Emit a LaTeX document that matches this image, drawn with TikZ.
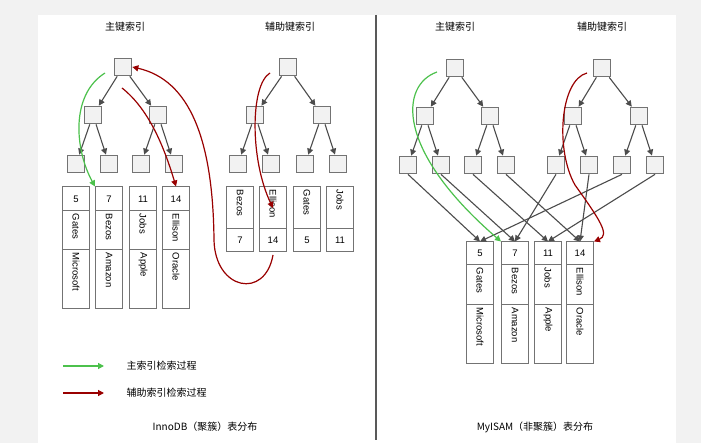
\documentclass[tikz,border=0pt]{standalone}
\usepackage{fontspec}
\setmainfont{Liberation Sans}
\newfontfamily\cjk{Noto Sans CJK SC}
\usetikzlibrary{arrows.meta}

\begin{document}
\begin{tikzpicture}[x=1pt,y=-1pt
	,font=\fontsize{9.5}{11}\selectfont
	,>={Triangle[length=6pt,width=6pt]}]
  \tikzset{
    keybox/.style={draw=black!55,fill=black!5,line width=1.7pt,minimum size=17pt,inner sep=0pt},
    treeline/.style={->,draw=black!70,line width=1.1pt},
    cell/.style={draw=black!55,line width=1pt,fill=white,minimum width=27pt,inner sep=0pt},
    vtext/.style={label={[rotate=-90,anchor=west,inner sep=3pt]north:#1}},
    green path/.style={->,draw=green!65!black!70,line width=1.2pt},
    red path/.style={->,draw=red!60!black,line width=1.2pt},
    title/.style={font=\cjk\fontsize{10}{12}\selectfont}
  }
  \useasboundingbox (0,0) rectangle (701,443);
  \fill[black!5] (0,0) rectangle (701,443);
  \fill[white] (38,15) rectangle (676,443);
  \draw[black!65,line width=2pt] (376,15) -- (376,440);

  % titles
  \node[title] (tpl) at (125,27) {主键索引};
  \node[title] (tsl) at (290,27) {辅助键索引};
  \node[title] (tpr) at (455,27) {主键索引};
  \node[title] (tsr) at (602,27) {辅助键索引};

  % trees: root, two inner nodes, four leaves
  \foreach \t/\rx/\ax/\bx/\ry in {pl/123/93/158/67, sl/288/255/322/67,
                                 pr/455/425/490/68, sr/602/573/639/68}{
    \pgfmathsetmacro\ly{\ry+48}
    \pgfmathsetmacro\lly{\ry+97}
    \node[keybox] (\t r) at (\rx,\ry) {};
    \node[keybox] (\t a) at (\ax,\ly) {};
    \node[keybox] (\t b) at (\bx,\ly) {};
    \node[keybox] (\t 1) at (\ax-17,\lly) {};
    \node[keybox] (\t 2) at (\ax+16,\lly) {};
    \node[keybox] (\t 3) at (\bx-17,\lly) {};
    \node[keybox] (\t 4) at (\bx+16,\lly) {};
    \draw[treeline] (\t r) -- (\t a);
    \draw[treeline] (\t r) -- (\t b);
    \draw[treeline] (\t a) -- (\t 1);
    \draw[treeline] (\t a) -- (\t 2);
    \draw[treeline] (\t b) -- (\t 3);
    \draw[treeline] (\t b) -- (\t 4);
  }

  % InnoDB clustered records
  \foreach \i/\x/\k/\n/\c in {1/76/5/Gates/Microsoft, 2/109/7/Bezos/Amazon,
                              3/143/11/Jobs/Apple, 4/176/14/Ellison/Oracle}{
    \node[cell,minimum height=24pt] (lk\i) at (\x,199) {\k};
    \node[cell,minimum height=39pt,vtext=\n] (ln\i) at (\x,230.5) {};
    \node[cell,minimum height=59pt,vtext=\c] (lc\i) at (\x,279.5) {};
  }
  % InnoDB secondary records
  \foreach \i/\x/\n/\k in {1/240/Bezos/7, 2/273/Ellison/14, 3/307/Gates/5, 4/340/Jobs/11}{
    \node[cell,minimum height=42pt,vtext=\n] (sn\i) at (\x,208) {};
    \node[cell,minimum height=23pt] (sk\i) at (\x,240.5) {\k};
  }

  % MyISAM records
  \foreach \i/\x/\k/\n/\c in {1/480/5/Gates/Microsoft, 2/515/7/Bezos/Amazon,
                              3/548/11/Jobs/Apple, 4/580/14/Ellison/Oracle}{
    \node[cell,minimum height=23pt] (rk\i) at (\x,253.5) {\k};
    \node[cell,minimum height=40pt,vtext=\n] (rn\i) at (\x,285) {};
    \node[cell,minimum height=58pt,vtext=\c] (rc\i) at (\x,334) {};
  }
  \foreach \a/\b in {pr1/rk1, pr2/rk2, pr3/rk3, pr4/rk4, sr1/rk2, sr2/rk4, sr3/rk1, sr4/rk3}
    \draw[treeline] (\a.south) -- (\b.north);

  % search paths
  \coordinate (gl0) at (105,73);
  \coordinate (rl0) at (122,88);
  \coordinate (rs0) at (270,73);
  \coordinate (rb0) at (273,255);
  \coordinate (gr0) at (437,72);
  \coordinate (rr0) at (587,73);
  \draw[green path] (gl0) .. controls (70,95) and (75,150) .. (lk2.north west);
  \draw[red path] (rl0) .. controls (150,110) and (165,150) .. (lk4.north);
  \draw[red path] (rs0) .. controls (250,85) and (250,160) .. (sn2.center);
  \draw[red path] (rb0) .. controls (265,300) and (215,290) .. (214,240)
                        .. controls (213,140) and (190,80) .. (plr.east);
  \draw[green path] (gr0) .. controls (400,85) and (395,150) .. (rk2.north west);
  \draw[red path] (rr0) .. controls (560,80) and (555,150) .. (575,185)
                        .. controls (600,220) and (610,235) .. (rk4.north east);

  % legend
  \coordinate (lg0) at (63,366);
  \coordinate (lg1) at (104,366);
  \coordinate (lr0) at (63,393);
  \coordinate (lr1) at (104,393);
  \draw[green path] (lg0) -- (lg1);
  \draw[red path] (lr0) -- (lr1);
  \node[title,anchor=west] (lgt) at (123,366) {主索引检索过程};
  \node[title,anchor=west] (lrt) at (123,393) {辅助索引检索过程};

  \node[title] (capl) at (205,427) {InnoDB（聚簇）表分布};
  \node[title] (capr) at (535,427) {MyISAM（非聚簇）表分布};
\end{tikzpicture}
\end{document}
